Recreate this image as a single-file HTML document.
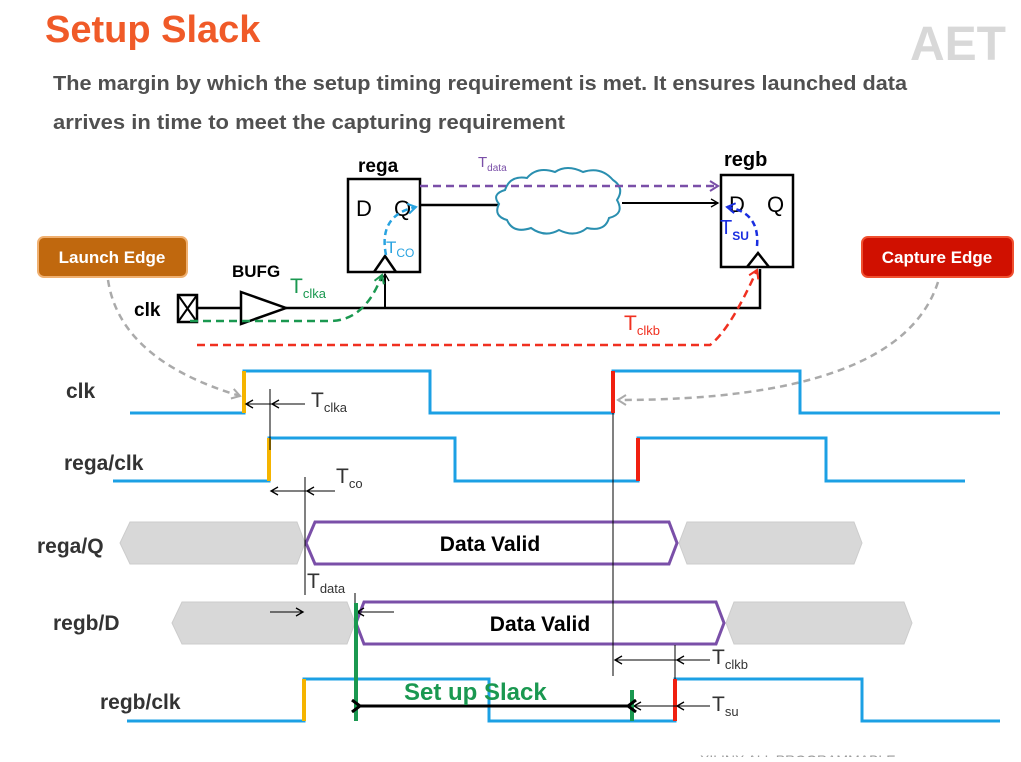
<!DOCTYPE html>
<html><head><meta charset="utf-8"><style>
body{margin:0;background:#fff;width:1021px;height:757px;overflow:hidden;font-family:"Liberation Sans",sans-serif}
</style></head><body>
<svg width="1021" height="757" viewBox="0 0 1021 757" xmlns="http://www.w3.org/2000/svg" font-family="Liberation Sans, sans-serif">
<defs>
<marker id="ak" markerWidth="10" markerHeight="10" refX="8" refY="5" orient="auto" markerUnits="userSpaceOnUse"><path d="M1,1 L8,5 L1,9" fill="none" stroke="#000" stroke-width="1.3"/></marker>
<marker id="ag" markerWidth="12" markerHeight="12" refX="9" refY="6" orient="auto" markerUnits="userSpaceOnUse"><path d="M1,1 L9,6 L1,11" fill="none" stroke="#aaa" stroke-width="2"/></marker>
<marker id="ap" markerWidth="12" markerHeight="12" refX="9" refY="6" orient="auto" markerUnits="userSpaceOnUse"><path d="M1,1 L9,6 L1,11" fill="none" stroke="#7a4fa8" stroke-width="2"/></marker>
<marker id="agr" markerWidth="12" markerHeight="12" refX="9" refY="6" orient="auto" markerUnits="userSpaceOnUse"><path d="M1,1 L9,6 L1,11" fill="none" stroke="#1a9850" stroke-width="2"/></marker>
<marker id="ar" markerWidth="12" markerHeight="12" refX="9" refY="6" orient="auto" markerUnits="userSpaceOnUse"><path d="M1,1 L9,6 L1,11" fill="none" stroke="#f03020" stroke-width="2"/></marker>
<marker id="ab" markerWidth="12" markerHeight="12" refX="9" refY="6" orient="auto" markerUnits="userSpaceOnUse"><path d="M1,1 L9,6 L1,11" fill="none" stroke="#29a3e0" stroke-width="2"/></marker>
<marker id="adb" markerWidth="12" markerHeight="12" refX="9" refY="6" orient="auto" markerUnits="userSpaceOnUse"><path d="M1,1 L9,6 L1,11" fill="none" stroke="#1a2ee0" stroke-width="2"/></marker>
<marker id="abig" markerWidth="14" markerHeight="14" refX="3" refY="7" orient="auto-start-reverse" markerUnits="userSpaceOnUse"><path d="M11,1 L3,7 L11,13" fill="none" stroke="#000" stroke-width="3"/></marker>
</defs>
<text x="45" y="42" font-size="38" font-weight="bold" fill="#f05a28">Setup Slack</text>
<text x="910" y="60" font-size="48" font-weight="bold" fill="#d8d8d8">AET</text>
<text x="53" y="90" font-size="20" font-weight="bold" fill="#505050" textLength="854" lengthAdjust="spacingAndGlyphs">The margin by which the setup timing requirement is met. It ensures launched data</text>
<text x="53" y="129" font-size="20" font-weight="bold" fill="#505050" textLength="512" lengthAdjust="spacingAndGlyphs">arrives in time to meet the capturing requirement</text>

<!-- top circuit -->
<text x="358" y="172" font-size="19" font-weight="bold">rega</text>
<rect x="348" y="179" width="72" height="93" fill="#fff" stroke="#000" stroke-width="2.5"/>
<text x="356" y="216" font-size="22">D</text><text x="394" y="216" font-size="22">Q</text>
<path d="M374,272 L385,256 L396,272" fill="none" stroke="#000" stroke-width="2.5"/>
<text x="724" y="166" font-size="20" font-weight="bold">regb</text>
<rect x="721" y="175" width="72" height="92" fill="#fff" stroke="#000" stroke-width="2.5"/>
<text x="729" y="212" font-size="22">D</text><text x="767" y="212" font-size="22">Q</text>
<path d="M747,267 L758,253 L769,267" fill="none" stroke="#000" stroke-width="2.5"/>
<line x1="420" y1="205" x2="500" y2="205" stroke="#000" stroke-width="2.5"/>
<line x1="622" y1="203" x2="718" y2="203" stroke="#000" stroke-width="2" marker-end="url(#ak)"/>
<path d="M505,190 q5,-15 22,-12 q10,-12 28,-6 q12,-8 28,0 q18,-6 30,8 q12,8 4,20 q8,14 -8,18 q-4,14 -22,10 q-12,10 -28,2 q-14,8 -28,-2 q-18,6 -24,-8 q-14,-4 -8,-16 q-8,-10 6,-14z" fill="#fff" stroke="#2a8fb0" stroke-width="2"/>
<line x1="420" y1="186" x2="718" y2="186" stroke="#7a4fa8" stroke-width="2.5" stroke-dasharray="8,5" marker-end="url(#ap)"/>
<text x="478" y="167" font-size="15" fill="#7a4fa8">T<tspan font-size="10" dy="4">data</tspan></text>
<text x="134" y="316" font-size="19" font-weight="bold">clk</text>
<rect x="178" y="295" width="19" height="27" fill="#fff" stroke="#000" stroke-width="2.5"/>
<path d="M178,295 L197,322 M197,295 L178,322" stroke="#000" stroke-width="2"/>
<line x1="197" y1="308" x2="241" y2="308" stroke="#000" stroke-width="2.5"/>
<path d="M241,292 L286,308 L241,324Z" fill="#fff" stroke="#000" stroke-width="2.5"/>
<text x="232" y="277" font-size="17" font-weight="bold">BUFG</text>
<path d="M286,308 L760,308 L760,269" fill="none" stroke="#000" stroke-width="2.5"/>
<line x1="385" y1="308" x2="385" y2="274" stroke="#000" stroke-width="2" marker-end="url(#ak)"/>
<path d="M190,321 L330,321 Q365,321 382,275" fill="none" stroke="#1a9850" stroke-width="2.5" stroke-dasharray="8,5" marker-end="url(#agr)"/>
<text x="290" y="293" font-size="21" fill="#1a9850">T<tspan font-size="13" dy="5">clka</tspan></text>
<path d="M386,255 Q378,215 416,207" fill="none" stroke="#29a3e0" stroke-width="2.5" stroke-dasharray="6,4" marker-end="url(#ab)"/>
<text x="386" y="253" font-size="17" fill="#29a3e0">T<tspan font-size="12" dy="4">CO</tspan></text>
<path d="M757,246 Q760,212 727,207" fill="none" stroke="#1a2ee0" stroke-width="2.5" stroke-dasharray="6,4" marker-end="url(#adb)"/>
<text x="720" y="234" font-size="20" fill="#1a2ee0">T<tspan font-size="12" dy="6" font-weight="bold">SU</tspan></text>
<path d="M197,345 L710,345 Q730,330 757,270" fill="none" stroke="#f03020" stroke-width="2.5" stroke-dasharray="8,5" marker-end="url(#ar)"/>
<text x="624" y="330" font-size="21" fill="#f03020">T<tspan font-size="13" dy="5">clkb</tspan></text>
<rect x="38" y="237" width="149" height="40" rx="6" fill="#c0680e" stroke="#f0b070" stroke-width="2"/>
<text x="112" y="263" font-size="17" font-weight="bold" fill="#fff" text-anchor="middle">Launch Edge</text>
<rect x="862" y="237" width="151" height="40" rx="6" fill="#d01000" stroke="#f05030" stroke-width="2"/>
<text x="937" y="263" font-size="17" font-weight="bold" fill="#fff" text-anchor="middle">Capture Edge</text>
<path d="M108,280 Q120,360 240,396" fill="none" stroke="#aaa" stroke-width="2.5" stroke-dasharray="7,5" marker-end="url(#ag)"/>
<path d="M938,282 Q900,400 618,400" fill="none" stroke="#aaa" stroke-width="2.5" stroke-dasharray="7,5" marker-end="url(#ag)"/>

<!-- labels -->
<g font-size="21" fill="#333" font-weight="bold">
<text x="66" y="398">clk</text>
<text x="64" y="470">rega/clk</text>
<text x="37" y="553">rega/Q</text>
<text x="53" y="630">regb/D</text>
<text x="100" y="709">regb/clk</text>
</g>

<!-- waveforms -->
<g fill="none" stroke="#1ca0e4" stroke-width="3">
<path d="M130,413 L244,413 L244,371 L430,371 L430,413 L613,413 L613,371 L800,371 L800,413 L1000,413"/>
<path d="M113,481 L269,481 L269,438 L455,438 L455,481 L638,481 L638,438 L826,438 L826,481 L965,481"/>
<path d="M127,721 L304,721 L304,679 L489,679 L489,721 L675,721 L675,679 L862,679 L862,721 L1000,721"/>
</g>
<g stroke-width="4">
<line x1="244" y1="371" x2="244" y2="413" stroke="#f5b400"/>
<line x1="269" y1="438" x2="269" y2="481" stroke="#f5b400"/>
<line x1="304" y1="679" x2="304" y2="721" stroke="#f5b400"/>
<line x1="613" y1="371" x2="613" y2="413" stroke="#f02010"/>
<line x1="638" y1="438" x2="638" y2="481" stroke="#f02010"/>
<line x1="675" y1="679" x2="675" y2="721" stroke="#f02010"/>
</g>
<!-- buses -->
<path d="M130,522 L297,522 L305,543 L297,564 L130,564 L120,543Z" fill="#d8d8d8" stroke="#ccc"/>
<path d="M315,522 L669,522 L677,543 L669,564 L315,564 L306,543Z" fill="#fff" stroke="#7a4fa8" stroke-width="3"/>
<path d="M687,522 L854,522 L862,543 L854,564 L687,564 L679,543Z" fill="#d8d8d8" stroke="#ccc"/>
<text x="490" y="551" font-size="21" font-weight="bold" text-anchor="middle">Data Valid</text>
<path d="M182,602 L347,602 L355,623 L347,644 L182,644 L172,623Z" fill="#d8d8d8" stroke="#ccc"/>
<path d="M364,602 L716,602 L724,623 L716,644 L364,644 L356,623Z" fill="#fff" stroke="#7a4fa8" stroke-width="3"/>
<path d="M734,602 L904,602 L912,623 L904,644 L734,644 L726,623Z" fill="#d8d8d8" stroke="#ccc"/>
<text x="540" y="631" font-size="21" font-weight="bold" text-anchor="middle">Data Valid</text>

<!-- measurement lines -->
<g stroke="#000" stroke-width="1">
<line x1="613" y1="413" x2="613" y2="676"/>
<line x1="270" y1="389" x2="270" y2="450"/>
<line x1="305" y1="477" x2="305" y2="595"/>
<line x1="355" y1="593" x2="355" y2="636"/>
<line x1="675" y1="645" x2="675" y2="679"/>
<line x1="305" y1="404" x2="246" y2="404" marker-end="url(#ak)"/>
<line x1="305" y1="404" x2="272" y2="404" marker-end="url(#ak)"/>
<line x1="335" y1="491" x2="271" y2="491" marker-end="url(#ak)"/>
<line x1="335" y1="491" x2="307" y2="491" marker-end="url(#ak)"/>
<line x1="270" y1="612" x2="303" y2="612" marker-end="url(#ak)"/>
<line x1="394" y1="612" x2="357" y2="612" marker-end="url(#ak)"/>
<line x1="710" y1="660" x2="615" y2="660" marker-end="url(#ak)"/>
<line x1="710" y1="660" x2="677" y2="660" marker-end="url(#ak)"/>
<line x1="710" y1="706" x2="634" y2="706" marker-end="url(#ak)"/>
<line x1="710" y1="706" x2="677" y2="706" marker-end="url(#ak)"/>
</g>
<g font-size="21" fill="#333">
<text x="311" y="407">T<tspan font-size="13" dy="5">clka</tspan></text>
<text x="336" y="483">T<tspan font-size="13" dy="5">co</tspan></text>
<text x="307" y="588">T<tspan font-size="13" dy="5">data</tspan></text>
<text x="712" y="664">T<tspan font-size="13" dy="5">clkb</tspan></text>
<text x="712" y="711">T<tspan font-size="13" dy="5">su</tspan></text>
</g>
<line x1="356" y1="603" x2="356" y2="721" stroke="#1a9850" stroke-width="4"/>
<line x1="632" y1="690" x2="632" y2="721" stroke="#1a9850" stroke-width="4"/>
<line x1="360" y1="706" x2="628" y2="706" stroke="#000" stroke-width="3" marker-start="url(#abig)" marker-end="url(#abig)"/>
<text x="404" y="700" font-size="24" font-weight="bold" fill="#1a9850">Set up Slack</text>
<text x="700" y="765" font-size="14" fill="#999">XILINX  ALL PROGRAMMABLE</text>
</svg>
</body></html>
